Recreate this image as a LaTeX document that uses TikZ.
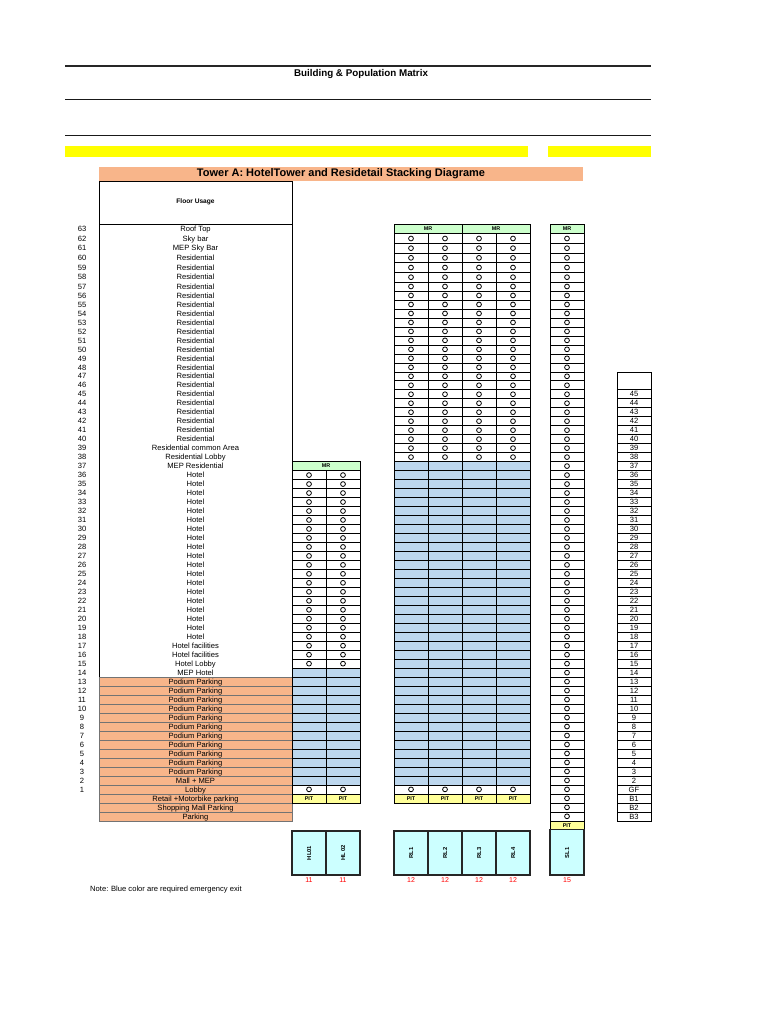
\documentclass[tikz,border=0pt]{standalone}
\usepackage{fontspec}
\setmainfont{Liberation Sans}
\usetikzlibrary{positioning}
\definecolor{podium}{HTML}{F8B58A}
\definecolor{exitblue}{HTML}{BDD7EE}
\definecolor{mrgreen}{HTML}{CCFFCC}
\definecolor{pityellow}{HTML}{FFFF99}
\definecolor{liftcyan}{HTML}{CCFFFF}
\definecolor{bandyellow}{HTML}{FFFF00}
\definecolor{countred}{HTML}{FF0000}
\tikzset{
    cell/.style={draw=black, line width=0.6pt},
    exitcell/.style={cell, fill=exitblue},
    mrcell/.style={cell, fill=mrgreen},
    pitcell/.style={cell, fill=pityellow},
    podiumcell/.style={draw=black!55, line width=0.5pt, fill=podium},
    liftbox/.style={draw=black!85, line width=1.1pt, fill=liftcyan},
    ring/.style={
        circle, draw=black, line width=0.8pt,
        minimum size=4.8pt, inner sep=0pt,
    },
    usage/.style={font=\fontsize{7.6}{8}\selectfont, inner sep=0pt, anchor=base},
    floorno/.style={font=\fontsize{7.6}{8}\selectfont, inner sep=0pt, anchor=base},
    tinybold/.style={font=\fontsize{5.4}{6}\selectfont\bfseries, inner sep=0pt, anchor=base},
    liftname/.style={font=\fontsize{5.8}{6}\selectfont\bfseries, rotate=90, inner sep=0pt},
    liftcount/.style={font=\fontsize{7}{8}\selectfont, text=countred, inner sep=0pt},
    rulethick/.style={line width=1.8pt, color=black!85},
    rulethin/.style={line width=1pt, color=black!90},
}
% top / bottom / middle of spreadsheet row #1 (0 = floor 63)
\newcommand\floorrow[1]{%
  \pgfmathsetmacro\ya{ifthenelse(#1<6,224+9.67*#1,282+8.98*(#1-6))}%
  \pgfmathsetmacro\yb{\ya+ifthenelse(#1<6,9.67,8.98)}%
  \pgfmathsetmacro\ym{(\ya+\yb)/2}%
  \pgfmathsetmacro\yt{\ym+2.7}%
  \pgfmathsetmacro\ys{\ym+1.9}}

\begin{document}
\begin{tikzpicture}[x=1pt, y=-1pt]
\useasboundingbox (0,0) rectangle (768,1024);

% =============================================
% Sheet header
% =============================================
\draw[rulethick] (65,66) -- (651,66);
\node[font=\fontsize{9.8}{11}\selectfont\bfseries, inner sep=0pt] (sheettitle) at (361,74) {Building \& Population Matrix};
\draw[rulethin] (65,100) -- (651,100);
\draw[rulethin] (65,136) -- (651,136);
\fill[bandyellow] (65,146) rectangle (528,157);
\fill[bandyellow] (548,146) rectangle (651,157);

\fill[podium] (99,167) rectangle (583,181);
\node[font=\fontsize{11}{12}\selectfont\bfseries, inner sep=0pt] (towertitle) at (341,174) {Tower A: HotelTower and Residetail Stacking Diagrame};

% =============================================
% Floor usage column
% =============================================
\draw[cell] (99,181) rectangle (292,224);
\node[font=\fontsize{6.6}{7}\selectfont\bfseries, inner sep=0pt] (usagehead) at (195.5,202) {Floor Usage};

\floorrow{50}
\draw[cell] (99,224) -- (99,\ya);
\draw[cell] (292,224) -- (292,\ya);
\draw[cell] (99,224) -- (292,224);

\foreach \i in {50,...,65}{
    \floorrow{\i}
    \draw[podiumcell] (99,\ya) rectangle (292,\yb);
}

\foreach \i in {0,...,62}{
    \floorrow{\i}
    \pgfmathtruncatemacro\fl{63-\i}
    \node[floorno] (no-\i) at (82,\yt) {\fl};
}

\foreach \i/\lab in {0/Roof Top, 1/Sky bar, 2/MEP Sky Bar,
    24/Residential common Area, 25/Residential Lobby, 26/MEP Residential,
    46/Hotel facilities, 47/Hotel facilities, 48/Hotel Lobby, 49/MEP Hotel,
    61/Mall + MEP, 62/Lobby, 63/Retail +Motorbike parking,
    64/Shopping Mall Parking, 65/Parking}{
    \floorrow{\i}
    \node[usage] (use-\i) at (195.5,\yt) {\lab};
}
\foreach \i in {3,...,23}{
    \floorrow{\i}
    \node[usage] (use-\i) at (195.5,\yt) {Residential};
}
\foreach \i in {27,...,45}{
    \floorrow{\i}
    \node[usage] (use-\i) at (195.5,\yt) {Hotel};
}
\foreach \i in {50,...,60}{
    \floorrow{\i}
    \node[usage] (use-\i) at (195.5,\yt) {Podium Parking};
}

% =============================================
% HL lifts (hotel)
% =============================================
\floorrow{26}
\draw[mrcell] (292,\ya) rectangle (360,\yb);
\node[tinybold] (hl-mr) at (326,\ys) {MR};

\foreach \c/\xl/\lab in {1/292/HL01, 2/326/HL 02}{
    \pgfmathsetmacro\xr{\xl+34}
    \pgfmathsetmacro\xm{\xl+17}
    \foreach \i in {27,...,48}{
        \floorrow{\i}
        \draw[cell] (\xl,\ya) rectangle (\xr,\yb);
        \node[ring] (hl\c-\i) at (\xm,\ym) {};
    }
    \foreach \i in {49,...,61}{
        \floorrow{\i}
        \draw[exitcell] (\xl,\ya) rectangle (\xr,\yb);
    }
    \floorrow{62}
    \draw[cell] (\xl,\ya) rectangle (\xr,\yb);
    \node[ring] (hl\c-62) at (\xm,\ym) {};
    \floorrow{63}
    \draw[pitcell] (\xl,\ya) rectangle (\xr,\yb);
    \node[tinybold] (hl\c-pit) at (\xm,\ys) {PIT};
    \draw[liftbox] (\xl,831) rectangle (\xr,875);
    \node[liftname] (hl\c-box) at (\xm,853) {\lab};
    \node[liftcount] (hl\c-cnt) at (\xm,880.5) {11};
}

% =============================================
% RL lifts (residential)
% =============================================
\floorrow{0}
\draw[mrcell] (394,\ya) rectangle (462,\yb);
\node[tinybold] (rl-mr1) at (428,\ys) {MR};
\draw[mrcell] (462,\ya) rectangle (530,\yb);
\node[tinybold] (rl-mr2) at (496,\ys) {MR};

\foreach \c/\xl in {1/394, 2/428, 3/462, 4/496}{
    \pgfmathsetmacro\xr{\xl+34}
    \pgfmathsetmacro\xm{\xl+17}
    \foreach \i in {1,...,25}{
        \floorrow{\i}
        \draw[cell] (\xl,\ya) rectangle (\xr,\yb);
        \node[ring] (rl\c-\i) at (\xm,\ym) {};
    }
    \foreach \i in {26,...,61}{
        \floorrow{\i}
        \draw[exitcell] (\xl,\ya) rectangle (\xr,\yb);
    }
    \floorrow{62}
    \draw[cell] (\xl,\ya) rectangle (\xr,\yb);
    \node[ring] (rl\c-62) at (\xm,\ym) {};
    \floorrow{63}
    \draw[pitcell] (\xl,\ya) rectangle (\xr,\yb);
    \node[tinybold] (rl\c-pit) at (\xm,\ys) {PIT};
    \draw[liftbox] (\xl,831) rectangle (\xr,875);
    \node[liftname] (rl\c-box) at (\xm,853) {RL\c};
    \node[liftcount] (rl\c-cnt) at (\xm,880.5) {12};
}

% =============================================
% SL lift (service)
% =============================================
\floorrow{0}
\draw[mrcell] (550,\ya) rectangle (584,\yb);
\node[tinybold] (sl-mr) at (567,\ys) {MR};
\foreach \i in {1,...,65}{
    \floorrow{\i}
    \draw[cell] (550,\ya) rectangle (584,\yb);
    \node[ring] (sl-\i) at (567,\ym) {};
}
\floorrow{66}
\draw[pitcell] (550,\ya) rectangle (584,\yb);
\node[tinybold] (sl-pit) at (567,\ys) {PIT};
\draw[liftbox] (550,\yb) rectangle (584,875);
\node[liftname] (sl-box) at (567,853) {SL1};
\node[liftcount] (sl-cnt) at (567,880.5) {15};

% =============================================
% Stop numbers (right)
% =============================================
\floorrow{16}
\pgfmathsetmacro\ytop{\ya}
\floorrow{17}
\draw[cell] (617,\ytop) rectangle (651,\yb);
\foreach \i in {18,...,61}{
    \floorrow{\i}
    \pgfmathtruncatemacro\fl{63-\i}
    \draw[cell] (617,\ya) rectangle (651,\yb);
    \node[floorno] (stop-\i) at (634,\yt) {\fl};
}
\foreach \i/\lab in {62/GF, 63/B1, 64/B2, 65/B3}{
    \floorrow{\i}
    \draw[cell] (617,\ya) rectangle (651,\yb);
    \node[floorno] (stop-\i) at (634,\yt) {\lab};
}

% =============================================
% Note
% =============================================
\node[usage, anchor=west] (note) at (90,890) {Note: Blue color are required emergency exit};

\end{tikzpicture}
\end{document}
